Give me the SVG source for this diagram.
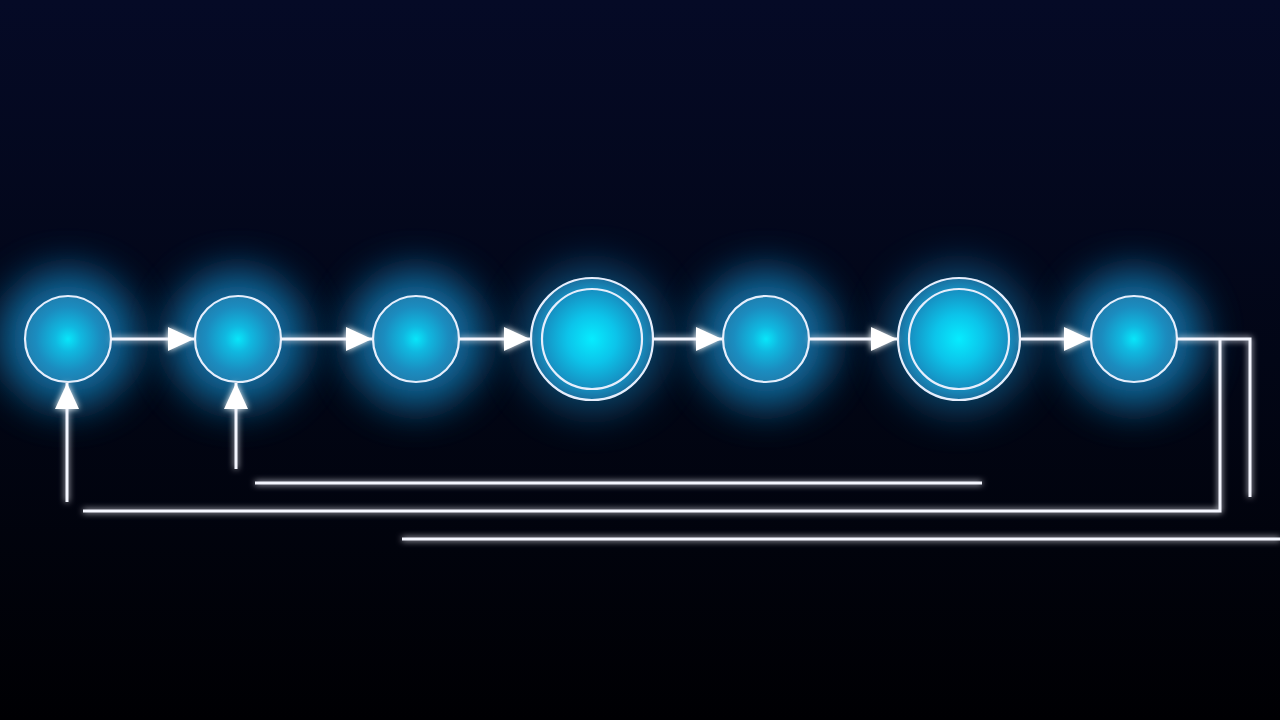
<svg xmlns="http://www.w3.org/2000/svg" width="1280" height="720" viewBox="0 0 1280 720">
  <defs>
    <linearGradient id="bg" x1="0" y1="0" x2="0" y2="1">
      <stop offset="0" stop-color="#050a26"/>
      <stop offset="0.5" stop-color="#020616"/>
      <stop offset="1" stop-color="#000003"/>
    </linearGradient>
    <radialGradient id="core">
      <stop offset="0" stop-color="#08e6fa"/>
      <stop offset="0.3" stop-color="#10b8e0"/>
      <stop offset="0.75" stop-color="#1b8cbf"/>
      <stop offset="1" stop-color="#1f7fb0"/>
    </radialGradient>
    <radialGradient id="coreB">
      <stop offset="0" stop-color="#06ecff"/>
      <stop offset="0.4" stop-color="#0cc4ea"/>
      <stop offset="0.8" stop-color="#1690c2"/>
      <stop offset="1" stop-color="#1a6f9e"/>
    </radialGradient>
    <filter id="soft" x="-60%" y="-60%" width="220%" height="220%">
      <feGaussianBlur stdDeviation="20"/>
    </filter>
    <filter id="glow" x="-20%" y="-20%" width="140%" height="140%">
      <feGaussianBlur stdDeviation="3" result="b"/>
      <feMerge><feMergeNode in="b"/><feMergeNode in="SourceGraphic"/></feMerge>
    </filter>
    <marker id="arr" viewBox="0 0 26 24" refX="26" refY="12" markerWidth="26" markerHeight="24" markerUnits="userSpaceOnUse" orient="auto">
      <path d="M0,0 L26,12 L0,24 Z" fill="#ffffff"/>
    </marker>
    <style>
      .ring{fill:none;stroke:#e6eefc;stroke-width:2.2}
      .ln{fill:none;stroke:#f4f6ff;stroke-width:3;stroke-linecap:butt}
      .halo{fill:#1487c4;opacity:0.8;filter:url(#soft)}
    </style>
  </defs>
  <rect width="1280" height="720" fill="url(#bg)"/>

  <g id="n1"><circle class="halo" cx="68" cy="339" r="68"/><circle cx="68" cy="339" r="43" fill="url(#core)"/><circle class="ring" cx="68" cy="339" r="43"/></g>
  <g id="n2"><circle class="halo" cx="238" cy="339" r="68"/><circle cx="238" cy="339" r="43" fill="url(#core)"/><circle class="ring" cx="238" cy="339" r="43"/></g>
  <g id="n3"><circle class="halo" cx="416" cy="339" r="68"/><circle cx="416" cy="339" r="43" fill="url(#core)"/><circle class="ring" cx="416" cy="339" r="43"/></g>
  <g id="n4"><circle class="halo" cx="592" cy="339" r="72" style="opacity:0.55"/><circle cx="592" cy="339" r="61" fill="url(#coreB)"/><circle class="ring" cx="592" cy="339" r="61"/><circle class="ring" cx="592" cy="339" r="50"/></g>
  <g id="n5"><circle class="halo" cx="766" cy="339" r="68"/><circle cx="766" cy="339" r="43" fill="url(#core)"/><circle class="ring" cx="766" cy="339" r="43"/></g>
  <g id="n6"><circle class="halo" cx="959" cy="339" r="72" style="opacity:0.55"/><circle cx="959" cy="339" r="61" fill="url(#coreB)"/><circle class="ring" cx="959" cy="339" r="61"/><circle class="ring" cx="959" cy="339" r="50"/></g>
  <g id="n7"><circle class="halo" cx="1134" cy="339" r="68"/><circle cx="1134" cy="339" r="43" fill="url(#core)"/><circle class="ring" cx="1134" cy="339" r="43"/></g>

  <g id="connectors" filter="url(#glow)">
    <line class="ln" x1="111" y1="339" x2="194" y2="339" marker-end="url(#arr)"/>
    <line class="ln" x1="281" y1="339" x2="372" y2="339" marker-end="url(#arr)"/>
    <line class="ln" x1="459" y1="339" x2="530" y2="339" marker-end="url(#arr)"/>
    <line class="ln" x1="653" y1="339" x2="722" y2="339" marker-end="url(#arr)"/>
    <line class="ln" x1="809" y1="339" x2="897" y2="339" marker-end="url(#arr)"/>
    <line class="ln" x1="1020" y1="339" x2="1090" y2="339" marker-end="url(#arr)"/>
    <line class="ln" x1="67" y1="502" x2="67" y2="383" marker-end="url(#arr)"/>
    <line class="ln" x1="236" y1="469" x2="236" y2="383" marker-end="url(#arr)"/>
    <line class="ln" x1="255" y1="483" x2="982" y2="483"/>
    <polyline class="ln" points="83,511 1220,511 1220,339"/>
    <polyline class="ln" points="1177,339 1250,339 1250,497"/>
    <line class="ln" x1="402" y1="539" x2="1280" y2="539"/>
  </g>
</svg>
